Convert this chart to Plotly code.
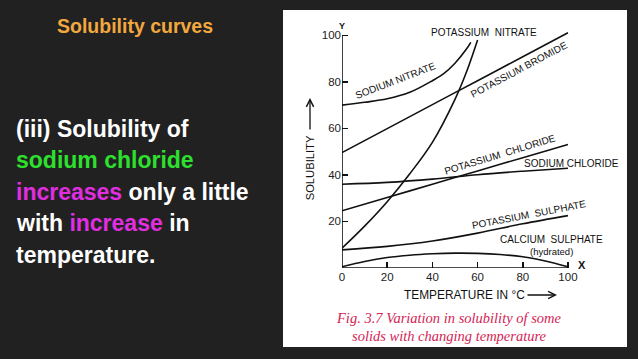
import plotly.graph_objects as go

W, H = 638, 359

# ---- data ----
temp_sodium_nitrate = [0, 10, 20, 30, 40, 45, 50, 55, 57]
sodium_nitrate = [70, 71.2, 72.7, 75.5, 80.5, 83.5, 88, 94, 97]

temp_potassium_nitrate = [0, 10, 20, 30, 40, 50, 55, 60]
potassium_nitrate = [8.5, 18, 28.5, 40.5, 54, 72.5, 84, 98]

temperature = [0, 20, 40, 60, 80, 100]
potassium_bromide = [49.6, 59.9, 70.2, 80.5, 90.8, 101.1]
potassium_chloride = [24.6, 30.3, 36.0, 41.7, 47.4, 53.1]
sodium_chloride = [36.0, 36.8, 38.2, 40.1, 41.6, 42.9]
potassium_sulphate = [7.8, 9.3, 11.6, 15.0, 19.0, 22.5]

temp_calcium_sulphate = [0, 10, 20, 30, 40, 50, 60, 70, 80, 90, 100]
calcium_sulphate = [0.5, 2.8, 4.5, 5.5, 6.1, 6.4, 6.3, 5.8, 4.8, 3.0, 0.5]

x_ticks = [0, 20, 40, 60, 80, 100]
y_ticks = [20, 40, 60, 80, 100]

# curve labels: text, x, y, angle
curve_labels = [
    ("POTASSIUM  NITRATE", 62.7, 101.3, 0),
    ("SODIUM NITRATE", 23.7, 80.6, -21),
    ("POTASSIUM BROMIDE", 78.3, 85.4, -28),
    ("POTASSIUM  CHLORIDE", 69.8, 48.9, -17),
    ("SODIUM CHLORIDE", 101.6, 45.1, 0),
    ("POTASSIUM  SULPHATE", 82.9, 22.9, -11),
    ("CALCIUM  SULPHATE", 92.5, 12.1, 0),
]

series = [
    (temp_sodium_nitrate, sodium_nitrate),
    (temp_potassium_nitrate, potassium_nitrate),
    (temperature, potassium_bromide),
    (temperature, potassium_chloride),
    (temperature, sodium_chloride),
    (temperature, potassium_sulphate),
    (temp_calcium_sulphate, calcium_sulphate),
]

ML, MR, MT, MB = 342, 61, 26, 91
PW, PH = W - ML - MR, H - MT - MB


def px(x):
    return (x - ML) / PW


def py(y):
    return (H - MB - y) / PH


fig = go.Figure()
for xs, ys in series:
    fig.add_trace(go.Scatter(
        x=xs, y=ys, mode="lines",
        line=dict(color="#111111", width=1.6, shape="spline", smoothing=1.0),
        showlegend=False, hoverinfo="skip", cliponaxis=False,
    ))

SANS = "Liberation Sans, Arial, sans-serif"
INK = "#111111"
ann = []


def note(x, y, text, size, color=INK, family=SANS, angle=0, xa="center", ref="paper"):
    if ref == "paper":
        x, y = px(x), py(y)
        xr, yr = "paper", "paper"
    else:
        xr, yr = "x", "y"
    ann.append(dict(x=x, y=y, xref=xr, yref=yr, text=text, showarrow=False,
                    textangle=angle, xanchor=xa, yanchor="middle",
                    font=dict(family=family, size=size, color=color)))


for text, x, y, ang in curve_labels:
    note(x, y, text, 10, angle=ang, ref="data")
note(92.7, 7.0, "(hydrated)", 9.5, ref="data")
note(0, 104, "<b>Y</b>", 9, ref="data")
note(582, 265, "<b>X</b>", 11)

# axis titles
note(310, 168.3, "SOLUBILITY", 11.2, angle=-90)
note(402, 295, "TEMPERATURE IN °C", 11.9, xa="left")
# axis arrows (head position, tail offset in px)
for hx, hy, tx, ty in [(310, 98, 0, 33), (557, 295, -31, 0)]:
    ann.append(dict(x=px(hx), y=py(hy), xref="paper", yref="paper", text="",
                    showarrow=True, ax=tx, ay=ty, arrowhead=5, arrowsize=1.1,
                    arrowwidth=1.3, arrowcolor=INK, standoff=0, startstandoff=0))

# caption
SERIF = "Liberation Serif, Times New Roman, serif"
CAP = "#d42455"
note(449, 318, "<i>Fig. 3.7 Variation in solubility of some</i>", 14.5, CAP, SERIF)
note(449, 336, "<i>solids with changing temperature</i>", 14.5, CAP, SERIF)

# slide texts
note(134.5, 26, "<b>Solubility curves</b>", 19.5, "#f2a83e")
GREEN = "#2ee02e"
MAG = "#e02ee0"
left_lines = [
    "<b>(iii) Solubility of</b>",
    f"<b><span style='color:{GREEN}'>sodium chloride</span></b>",
    f"<b><span style='color:{MAG}'>increases</span> only a little</b>",
    f"<b>with <span style='color:{MAG}'>increase</span> in</b>",
    "<b>temperature.</b>",
]
left_y = [129, 160.4, 191.8, 223.2, 254.6]
for t, yy in zip(left_lines, left_y):
    note(14, yy, t, 23, "#ffffff", xa="left")

shapes = [
    dict(type="rect", xref="paper", yref="paper", x0=px(283), x1=px(627),
         y0=py(347), y1=py(10), fillcolor="#ffffff", line=dict(width=0), layer="below"),
    dict(type="line", xref="x", yref="y", x0=0, y0=0, x1=100, y1=0,
         line=dict(color=INK, width=1.6)),
    dict(type="line", xref="x", yref="y", x0=0, y0=0, x1=0, y1=100,
         line=dict(color=INK, width=1.6)),
]

fig.update_layout(
    width=W, height=H,
    margin=dict(l=ML, r=MR, t=MT, b=MB, pad=0),
    paper_bgcolor="#212121",
    plot_bgcolor="rgba(0,0,0,0)",
    annotations=ann,
    shapes=shapes,
    showlegend=False,
    xaxis=dict(range=[0, 104], tickvals=x_ticks, ticks="inside", ticklen=6, tickwidth=1.5,
               tickcolor=INK, showgrid=False, zeroline=False, showline=False,
               tickfont=dict(family=SANS, size=11.5, color="#222222"), fixedrange=True),
    yaxis=dict(range=[0, 104], tickvals=y_ticks, ticks="inside", ticklen=6, tickwidth=1.5,
               tickcolor=INK, showgrid=False, zeroline=False, showline=False,
               tickfont=dict(family=SANS, size=11.5, color="#222222"), fixedrange=True),
)

fig.write_html(
    "out.html",
    config={"displayModeBar": False, "staticPlot": True},
    post_script="document.body.style.margin='0px';document.body.style.background='#212121';",
)
